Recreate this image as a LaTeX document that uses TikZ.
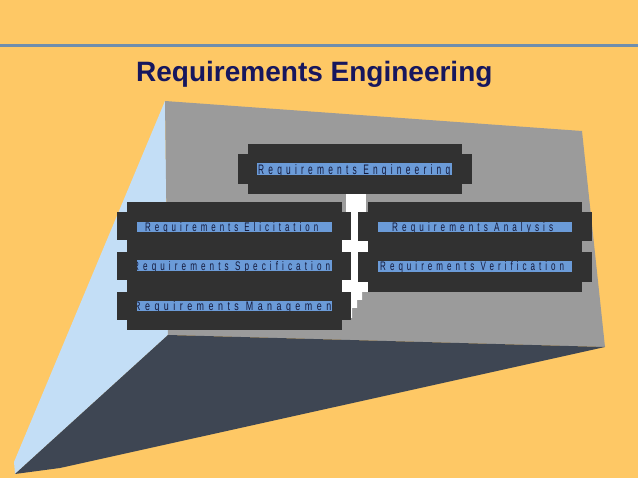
\documentclass[tikz,border=0pt]{standalone}
\usepackage{fontspec}
\usepackage{graphicx}
\setmainfont{Liberation Sans}
\newfontfamily\lblfont[LetterSpace=50]{Liberation Sans}
\newcommand\lbl[3]{\resizebox{#1}{#2}{\lblfont #3}}
\definecolor{bgorange}{HTML}{FEC865}
\definecolor{ltblue}{HTML}{C3DEF6}
\definecolor{panelgray}{HTML}{9B9B9B}
\definecolor{darkface}{HTML}{3E4653}
\definecolor{boxdark}{HTML}{313131}
\definecolor{stripblue}{HTML}{6B9BD8}
\definecolor{lbltxt}{HTML}{141A3C}
\definecolor{titlenavy}{HTML}{17175E}
\definecolor{linecol}{HTML}{6F8EAD}
\tikzset{
  boxfill/.style={fill=boxdark},
  stripfill/.style={fill=stripblue},
  lbltext/.style={anchor=base west, inner sep=0pt, text=lbltxt},
}
\begin{document}
\begin{tikzpicture}[x=1pt,y=-1pt]
\useasboundingbox (0,0) rectangle (638,478);
\fill[bgorange] (0,0) rectangle (638,478);
\fill[linecol] (0,44) rectangle (638,47.5);
\node[anchor=base west, inner sep=0pt, text=titlenavy, font=\fontsize{28}{34}\selectfont\bfseries] (title) at (136,82) {Requirements Engineering};
% perspective
\fill[ltblue] (165,101) -- (168,335) -- (15,474) -- (14,462) -- cycle;
\fill[panelgray] (165,101) -- (582,131) -- (605,347) -- (168,335) -- cycle;
\fill[darkface] (168,335) -- (605,347) -- (60,468) -- (15,474) -- cycle;
% white bus
\fill[white] (346,193) rectangle (366,212);
\fill[white] (342,212) rectangle (368,292);
\fill[white] (342,292) -- (362,292) -- (362,300) -- (357,300) -- (357,308) -- (352,308) -- (352,318) -- (342,318) -- cycle;
% top box
\fill[boxfill] (248,144) rectangle (462,194);
\fill[boxfill] (238,154) rectangle (248,184);
\fill[boxfill] (462,154) rectangle (472,184);
\fill[stripfill] (257,163) rectangle (452,175);
% left column
\fill[boxfill] (127,202) rectangle (342,330);
\foreach \a/\b in {212/240,252/280,292/320}{
  \fill[boxfill] (117,\a) rectangle (127,\b);
  \fill[boxfill] (342,\a) rectangle (351,\b);
}
\fill[stripfill] (137,222) rectangle (332,232);
\fill[stripfill] (137,260) rectangle (332,271);
\fill[stripfill] (137,301) rectangle (332,311);
% right column
\fill[boxfill] (368,202) rectangle (582,292);
\foreach \a/\b in {212/241,252/282}{
  \fill[boxfill] (358,\a) rectangle (368,\b);
  \fill[boxfill] (582,\a) rectangle (592,\b);
}
\fill[stripfill] (378,222) rectangle (572,232);
\fill[stripfill] (378,261) rectangle (572,272);
% labels
\begin{scope}
\clip (257,163) rectangle (452,175);
\node[lbltext] (re) at (258,174.5) {\lbl{192pt}{10pt}{Requirements Engineering}};
\end{scope}
\begin{scope}
\clip (137,222) rectangle (332,232);
\node[lbltext] (el) at (145,231.5) {\lbl{173pt}{9pt}{Requirements Elicitation}};
\end{scope}
\begin{scope}
\clip (137,260) rectangle (332,271);
\node[lbltext] (sp) at (133,270.5) {\lbl{197pt}{9pt}{Requirements Specification}};
\end{scope}
\begin{scope}
\clip (137,301) rectangle (332,311);
\node[lbltext] (mg) at (134,310.5) {\lbl{204pt}{9pt}{Requirements Management}};
\end{scope}
\begin{scope}
\clip (378,222) rectangle (572,232);
\node[lbltext] (an) at (392,231.5) {\lbl{161pt}{9pt}{Requirements Analysis}};
\end{scope}
\begin{scope}
\clip (378,261) rectangle (572,272);
\node[lbltext] (vf) at (380,271) {\lbl{184pt}{9pt}{Requirements Verification}};
\end{scope}
\end{tikzpicture}
\end{document}
